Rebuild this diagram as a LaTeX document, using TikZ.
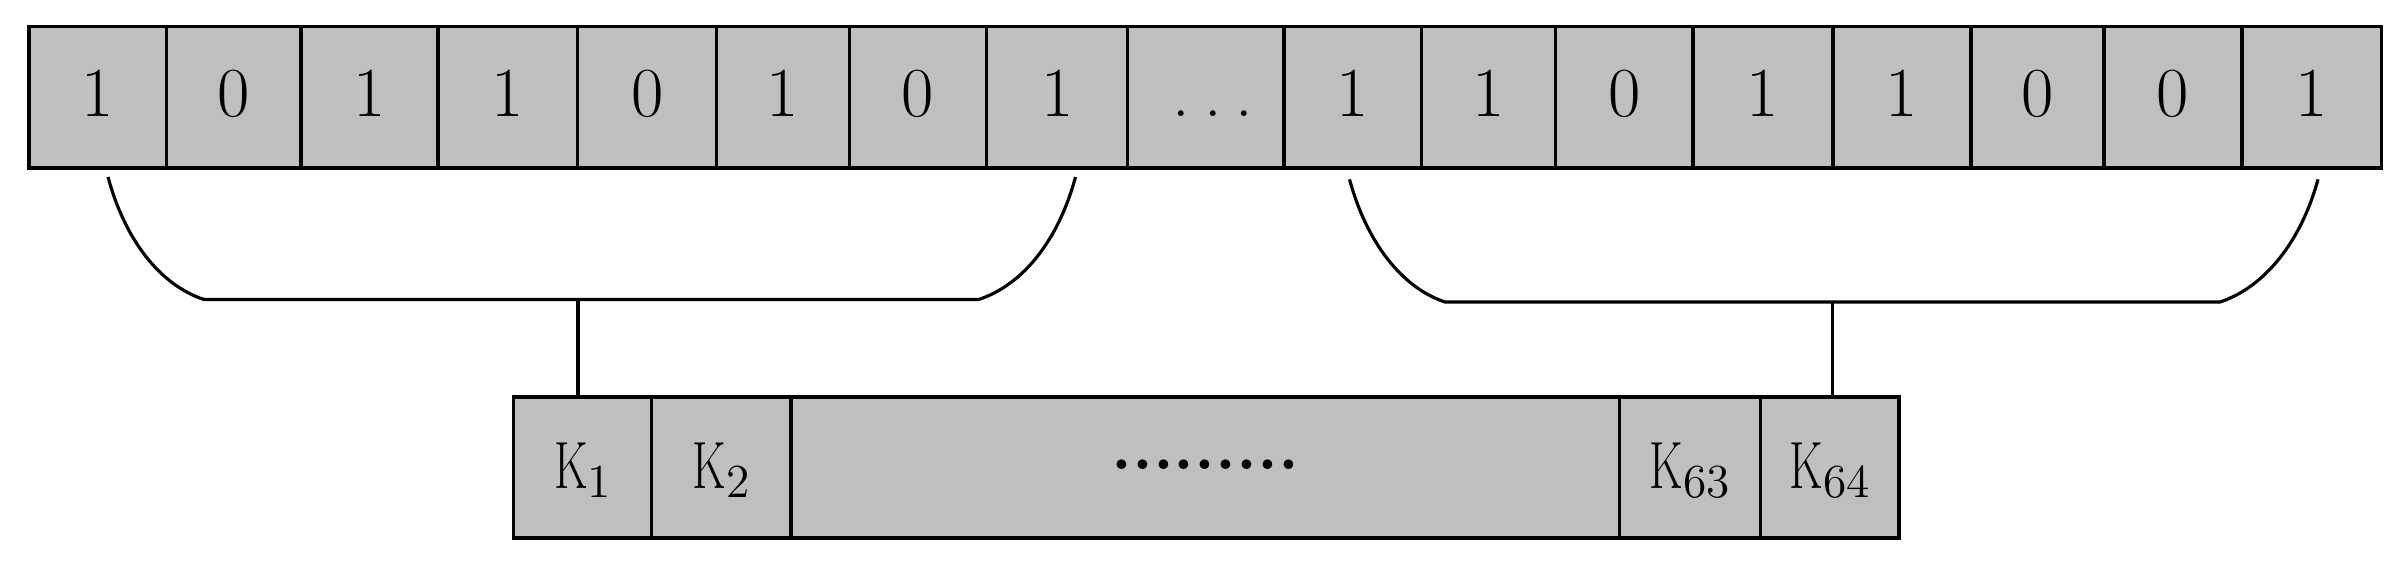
\documentclass[tikz,border=0pt]{standalone}
\usepackage{graphicx}
\definecolor{cellgray}{RGB}{191,191,191}
\newcommand{\Kn}[1]{\scalebox{0.7}[1]{K}\raisebox{-2.4pt}{\fontsize{13.5}{14}\selectfont #1}}
\tikzset{
  cell/.style={draw=black, fill=cellgray, line width=0.9pt, inner sep=0pt, outer sep=0pt,
    anchor=north west, font=\fontsize{20}{24}\selectfont, text height=9mm, text depth=5.15mm},
  kcell/.style={cell, font=\fontsize{19}{23}\selectfont, text height=9.18mm, text depth=4.92mm},
  brace/.style={draw=black, line width=0.9pt}
}
\begin{document}
\begin{tikzpicture}[x=0.1mm,y=-0.1mm]
\useasboundingbox (0,0) rectangle (2396,570);
% top register
\foreach \i/\l/\w/\t in {1/29/13.77/1, 2/166.7/13.43/0, 3/301/13.70/1, 4/438/13.97/1,
  5/577.7/13.89/0, 6/716.6/13.27/1, 7/849.3/13.72/0, 8/986.5/14.13/1,
  10/1284/13.72/1, 11/1421.2/13.41/1, 12/1555.3/13.77/0, 13/1693/14.00/1,
  14/1833/13.80/1, 15/1971/13.30/0, 16/2104/13.80/0, 17/2242/13.95/1}
  \node[cell, minimum width=\w mm] (t\i) at (\l,26.5) {\t};
\node[cell, minimum width=15.62mm] (t9) at (1127.8,26.5) {};
\node[anchor=base, inner sep=0pt, font=\fontsize{20}{24}\selectfont] (tdots) at (1213,116.5) {.\kern0.2em.\kern0.2em.};
% key register
\node[kcell, minimum width=13.77mm] (k1) at (513.6,397) {\Kn{1}};
\node[kcell, minimum width=13.97mm] (k2) at (651.3,397) {\Kn{2}};
\node[kcell, minimum width=82.85mm, text height=7.2mm, text depth=6.9mm] (kdots) at (791,397) {\textbf{.........}};
\node[kcell, minimum width=14.10mm] (k63) at (1619.5,397) {\Kn{63}};
\node[kcell, minimum width=13.85mm] (k64) at (1760.5,397) {\Kn{64}};
% brackets
\coordinate (a1) at (108,177);
\coordinate (a2) at (204,299.5);
\coordinate (a3) at (978.6,299.5);
\coordinate (a4) at (1075.5,177);
\coordinate (lj) at (578,299.5);
\coordinate (b1) at (1349.5,179.3);
\coordinate (b2) at (1445,302);
\coordinate (b3) at (2220,302);
\coordinate (b4) at (2318,179.3);
\coordinate (rj) at (1832.5,302);
\draw[brace] (a1) .. controls (125,240) and (160,285) .. (a2) -- (a3)
  .. controls (1023,285) and (1058.5,240) .. (a4);
\draw[brace] (b1) .. controls (1366.5,242) and (1401.5,287.5) .. (b2) -- (b3)
  .. controls (2264,287.5) and (2301,242) .. (b4);
\draw[brace] (lj) -- (lj |- k1.north);
\draw[brace] (rj) -- (rj |- k64.north);
\end{tikzpicture}
\end{document}
